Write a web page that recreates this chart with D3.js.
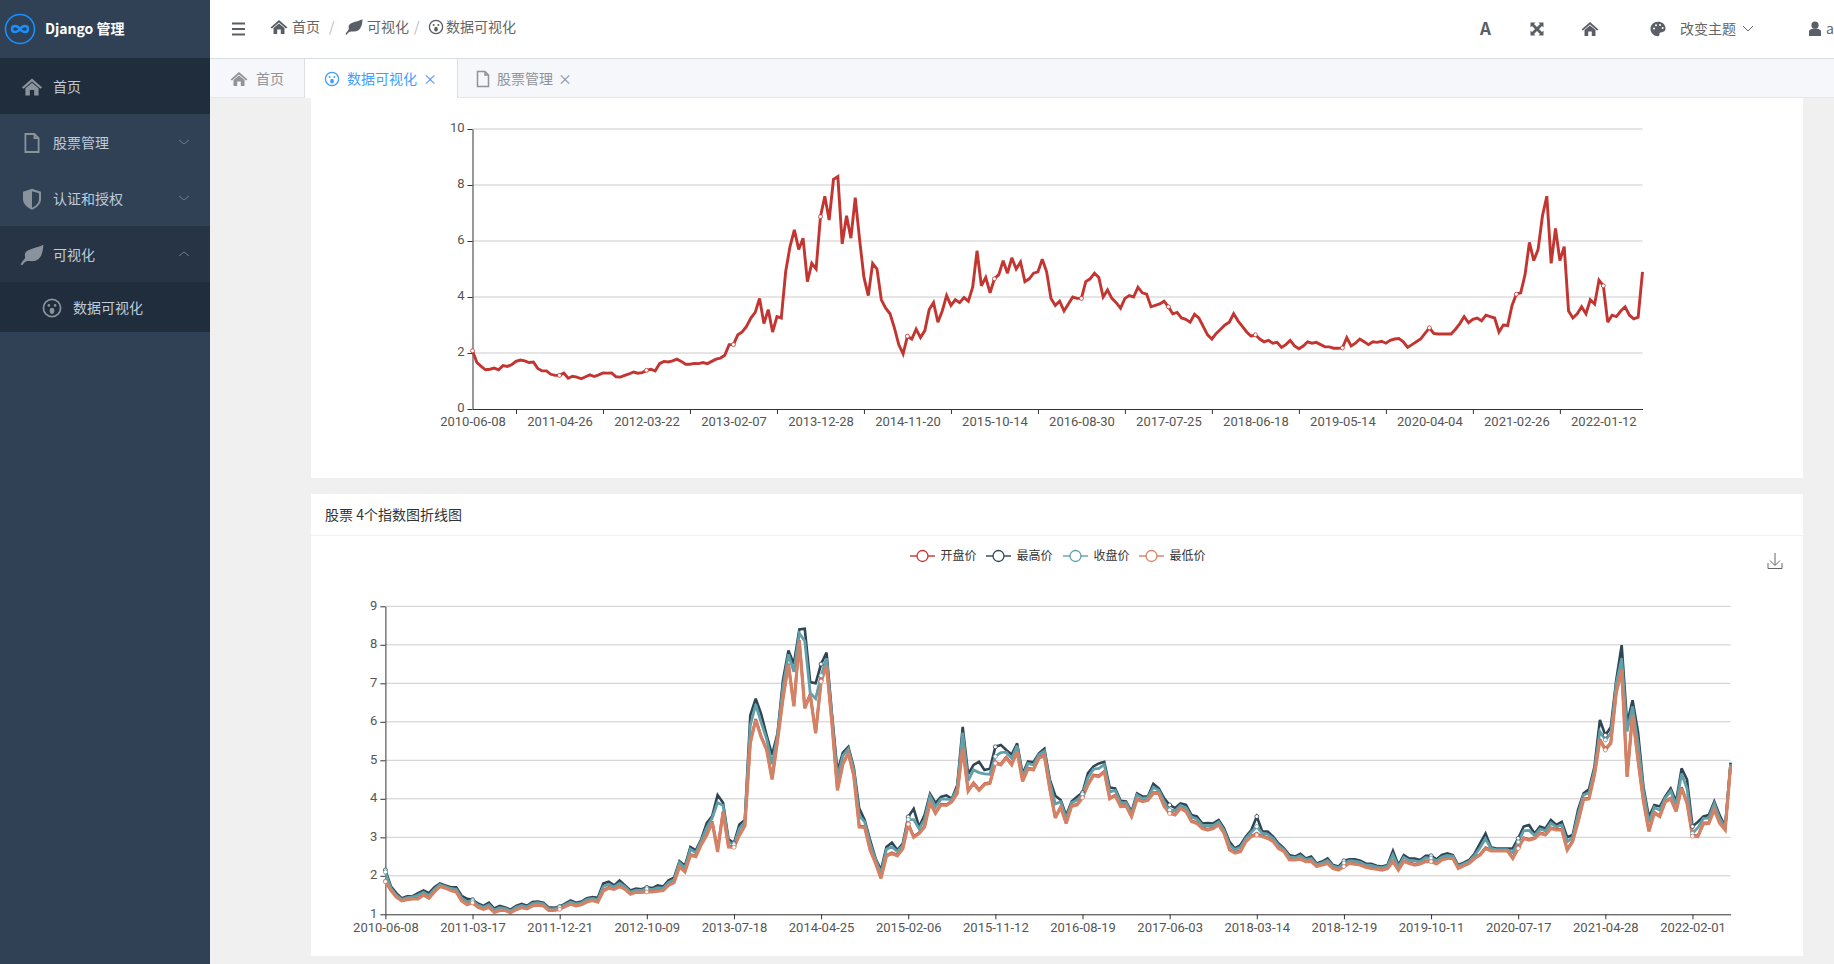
<!DOCTYPE html>
<html>
<head>
<meta charset="utf-8">
<title>数据可视化</title>
<script src="https://cdn.jsdelivr.net/npm/d3@7"></script>
<style>
html, body { margin: 0; padding: 0; background: #f0f0f0; overflow: hidden; }
svg { display: block; font-family: "Noto Sans CJK SC", "Noto Sans", sans-serif; }
</style>
</head>
<body>
<svg id="page" width="1834" height="964"></svg>
<script>
// top chart: single close series, one value per sample
var singleTickLabels = ["2010-06-08","2011-04-26","2012-03-22","2013-02-07","2013-12-28","2014-11-20","2015-10-14","2016-08-30","2017-07-25","2018-06-18","2019-05-14","2020-04-04","2021-02-26","2022-01-12"];
var singleValues = [
  2.08,1.66,1.52,1.40,1.42,1.46,1.40,1.55,1.52,1.58,1.70,1.75,1.72,1.66,1.68,1.45,1.36,1.36,1.24,1.20,
  1.20,1.28,1.10,1.17,1.14,1.08,1.15,1.22,1.16,1.22,1.29,1.28,1.29,1.15,1.14,1.20,1.25,1.32,1.28,1.30,
  1.38,1.42,1.36,1.62,1.70,1.68,1.72,1.78,1.70,1.60,1.60,1.63,1.62,1.66,1.62,1.70,1.78,1.82,1.92,2.30,
  2.30,2.65,2.75,2.95,3.25,3.45,3.95,3.05,3.55,2.75,3.30,3.25,4.90,5.80,6.40,5.70,6.10,4.55,5.20,5.00,
  6.87,7.60,6.75,8.20,8.30,5.90,6.90,6.10,7.55,6.05,4.70,4.05,5.20,5.00,3.90,3.60,3.40,2.90,2.30,1.97,
  2.60,2.50,2.85,2.55,2.80,3.55,3.80,3.10,3.50,4.05,3.70,3.90,3.80,3.98,3.85,4.35,5.65,4.40,4.70,4.15,
  4.65,4.80,5.30,4.85,5.40,5.00,5.25,4.55,4.65,4.85,4.90,5.35,4.90,3.95,3.70,3.85,3.50,3.75,4.00,3.95,
  3.95,4.55,4.65,4.85,4.70,4.00,4.25,3.95,3.80,3.60,3.95,4.05,4.00,4.35,4.15,4.10,3.65,3.70,3.75,3.85,
  3.65,3.40,3.45,3.25,3.20,3.10,3.38,3.25,2.95,2.65,2.50,2.70,2.85,3.00,3.10,3.40,3.15,2.95,2.75,2.60,
  2.65,2.50,2.40,2.45,2.35,2.38,2.20,2.30,2.45,2.25,2.15,2.25,2.40,2.35,2.38,2.30,2.22,2.22,2.17,2.17,
  2.18,2.55,2.25,2.35,2.50,2.40,2.30,2.40,2.38,2.42,2.35,2.45,2.50,2.52,2.40,2.20,2.30,2.40,2.50,2.70,
  2.90,2.70,2.68,2.68,2.68,2.68,2.85,3.05,3.30,3.08,3.20,3.25,3.15,3.35,3.30,3.25,2.75,3.00,2.98,3.70,
  4.10,4.15,4.80,5.95,5.30,5.70,6.90,7.60,5.20,6.45,5.30,5.80,3.50,3.25,3.40,3.65,3.40,3.90,3.75,4.60,
  4.40,3.10,3.35,3.30,3.50,3.65,3.35,3.22,3.28,4.90
];

// bottom chart: four series
var multiTickLabels = ["2010-06-08","2011-03-17","2011-12-21","2012-10-09","2013-07-18","2014-04-25","2015-02-06","2015-11-12","2016-08-19","2017-06-03","2018-03-14","2018-12-19","2019-10-11","2020-07-17","2021-04-28","2022-02-01"];
var seriesNames = ["开盘价","最高价","收盘价","最低价"];
var seriesColors = ["#c23531","#2f4554","#61a0a8","#d48265"];
var highValues = [
  2.15,1.73,1.55,1.42,1.47,1.47,1.55,1.62,1.55,1.70,1.80,1.75,1.70,1.70,1.48,1.40,
  1.38,1.28,1.22,1.30,1.15,1.22,1.18,1.12,1.22,1.27,1.22,1.32,1.33,1.30,1.18,1.17,
  1.20,1.28,1.36,1.30,1.33,1.42,1.45,1.43,1.80,1.85,1.75,1.88,1.75,1.62,1.67,1.65,
  1.70,1.68,1.75,1.72,1.88,1.95,2.38,2.26,2.75,2.66,2.95,3.37,3.55,4.10,3.90,2.95,
  2.85,3.33,3.45,6.17,6.60,6.20,5.65,5.14,5.70,7.08,7.85,7.50,8.40,8.42,7.03,7.00,
  7.50,7.80,6.20,4.72,5.20,5.35,4.82,3.75,3.45,2.93,2.45,2.15,2.75,2.86,2.67,2.84,
  3.53,3.74,3.27,3.58,4.13,3.89,4.05,4.09,4.00,4.35,5.87,4.64,4.88,4.96,4.75,4.78,
  5.35,5.40,5.27,5.15,5.44,4.65,4.97,4.95,5.18,5.30,4.50,4.08,3.97,3.57,3.93,4.05,
  4.16,4.67,4.84,4.92,4.96,4.29,4.27,3.95,3.93,3.67,4.14,4.06,4.06,4.39,4.27,4.01,
  3.84,3.76,3.88,3.84,3.58,3.54,3.36,3.37,3.36,3.45,3.23,2.88,2.71,2.80,3.02,3.19,
  3.54,3.15,3.15,3.02,2.84,2.71,2.54,2.50,2.57,2.45,2.50,2.32,2.37,2.45,2.28,2.24,
  2.39,2.43,2.43,2.39,2.32,2.31,2.26,2.24,2.28,2.65,2.28,2.54,2.45,2.45,2.41,2.52,
  2.52,2.43,2.54,2.58,2.54,2.28,2.34,2.41,2.58,2.84,3.10,2.74,2.71,2.71,2.71,2.71,
  2.97,3.28,3.32,3.10,3.28,3.23,3.45,3.32,3.40,3.00,3.06,3.72,4.14,4.25,4.83,6.05,
  5.65,5.86,7.08,7.99,5.96,6.56,5.74,4.31,3.53,3.84,3.80,4.06,4.27,3.93,4.79,4.50,
  3.28,3.40,3.54,3.58,3.93,3.57,3.28,4.94
];
var lowValues = [
  1.85,1.62,1.45,1.35,1.38,1.40,1.40,1.50,1.42,1.58,1.72,1.68,1.62,1.58,1.35,1.25,
  1.30,1.18,1.13,1.18,1.05,1.10,1.10,1.04,1.12,1.17,1.14,1.22,1.24,1.22,1.10,1.10,
  1.13,1.20,1.26,1.22,1.25,1.32,1.36,1.32,1.60,1.68,1.65,1.72,1.65,1.52,1.57,1.57,
  1.58,1.58,1.60,1.62,1.75,1.82,2.23,2.10,2.53,2.50,2.81,3.05,3.39,2.62,3.65,2.75,
  2.74,3.05,3.29,5.45,6.05,5.60,5.27,4.50,5.51,6.60,7.49,6.40,8.10,6.35,6.70,5.70,
  7.05,7.45,5.95,4.22,4.90,5.18,4.60,3.27,3.26,2.67,2.33,1.93,2.51,2.58,2.52,2.70,
  3.34,3.00,3.10,3.27,3.89,3.62,3.84,3.83,3.92,4.14,5.31,4.20,4.40,4.22,4.37,4.40,
  4.92,4.88,5.06,4.88,5.23,4.45,4.78,4.75,5.06,5.12,4.25,3.50,3.78,3.36,3.81,3.84,
  4.03,4.36,4.60,4.58,4.70,4.00,4.08,3.80,3.81,3.54,3.98,3.93,3.96,4.14,4.14,3.80,
  3.62,3.58,3.75,3.67,3.41,3.36,3.23,3.19,3.23,3.32,3.10,2.67,2.59,2.63,2.89,3.02,
  3.06,3.02,2.97,2.89,2.71,2.63,2.41,2.41,2.43,2.37,2.37,2.24,2.28,2.32,2.19,2.15,
  2.24,2.32,2.30,2.28,2.22,2.19,2.17,2.15,2.19,2.37,2.15,2.37,2.32,2.28,2.31,2.37,
  2.37,2.31,2.41,2.45,2.45,2.19,2.26,2.32,2.45,2.54,2.71,2.65,2.65,2.65,2.65,2.45,
  2.71,2.97,2.93,2.97,3.10,3.06,3.23,3.19,3.19,2.67,2.89,3.40,3.98,4.00,4.62,5.53,
  5.27,5.44,6.75,7.34,4.57,6.17,5.00,3.93,3.15,3.63,3.54,3.92,4.00,3.67,4.28,3.88,
  3.03,3.02,3.35,3.36,3.72,3.36,3.19,4.85
];
var closeValues = [
  2.10,1.68,1.50,1.39,1.43,1.45,1.50,1.57,1.49,1.65,1.77,1.72,1.67,1.65,1.42,1.33,
  1.35,1.24,1.18,1.25,1.11,1.17,1.15,1.09,1.18,1.23,1.19,1.28,1.30,1.27,1.15,1.14,
  1.18,1.25,1.32,1.27,1.30,1.38,1.41,1.38,1.72,1.78,1.71,1.81,1.71,1.58,1.63,1.62,
  1.66,1.64,1.69,1.68,1.83,1.90,2.34,2.20,2.69,2.60,2.91,3.25,3.50,3.90,3.83,2.88,
  2.81,3.23,3.40,5.90,6.45,5.98,5.55,4.90,5.65,6.90,7.75,7.30,8.30,8.10,6.75,6.60,
  7.20,7.65,6.12,4.55,5.12,5.30,4.76,3.57,3.40,2.84,2.42,2.06,2.69,2.75,2.63,2.79,
  3.46,3.46,3.22,3.46,4.07,3.79,3.99,3.99,3.98,4.27,5.72,4.47,4.75,4.68,4.65,4.64,
  5.10,5.20,5.21,5.05,5.38,4.58,4.92,4.88,5.15,5.24,4.43,3.87,3.92,3.49,3.90,3.97,
  4.12,4.55,4.77,4.79,4.89,4.18,4.22,3.90,3.90,3.62,4.10,4.01,4.03,4.30,4.22,3.93,
  3.71,3.69,3.83,3.77,3.53,3.47,3.31,3.30,3.31,3.40,3.18,2.80,2.68,2.74,2.97,3.13,
  3.28,3.10,3.08,2.97,2.79,2.68,2.49,2.47,2.52,2.42,2.45,2.29,2.34,2.40,2.25,2.21,
  2.33,2.39,2.38,2.35,2.28,2.27,2.23,2.21,2.25,2.55,2.23,2.48,2.40,2.39,2.37,2.47,
  2.46,2.39,2.49,2.53,2.51,2.25,2.31,2.38,2.53,2.73,2.96,2.71,2.68,2.68,2.68,2.60,
  2.88,3.17,3.18,3.05,3.22,3.17,3.37,3.27,3.32,2.88,3.00,3.60,4.10,4.15,4.75,5.75,
  5.53,5.70,6.99,7.65,5.75,6.40,5.46,4.21,3.39,3.78,3.70,4.02,4.20,3.83,4.65,4.27,
  3.10,3.25,3.49,3.50,3.87,3.49,3.25,4.90
];
var openValues = [
  1.86,1.64,1.47,1.37,1.40,1.42,1.42,1.52,1.44,1.60,1.74,1.70,1.64,1.60,1.37,1.27,
  1.32,1.20,1.15,1.20,1.07,1.12,1.12,1.06,1.14,1.19,1.16,1.24,1.26,1.24,1.12,1.12,
  1.15,1.22,1.28,1.24,1.27,1.34,1.38,1.34,1.62,1.70,1.67,1.74,1.67,1.54,1.59,1.59,
  1.60,1.60,1.62,1.64,1.77,1.84,2.25,2.12,2.55,2.52,2.83,3.07,3.41,2.70,3.67,2.77,
  2.76,3.07,3.31,5.47,6.07,5.62,5.29,4.52,5.53,6.62,7.51,6.42,8.12,6.37,6.72,5.72,
  7.07,7.47,5.97,4.24,4.92,5.20,4.62,3.29,3.28,2.69,2.35,1.95,2.53,2.60,2.54,2.72,
  3.36,3.02,3.12,3.29,3.91,3.64,3.86,3.85,3.94,4.16,5.33,4.22,4.42,4.24,4.39,4.42,
  4.94,4.90,5.08,4.90,5.25,4.47,4.80,4.77,5.08,5.14,4.27,3.52,3.80,3.38,3.83,3.86,
  4.05,4.38,4.62,4.60,4.72,4.02,4.10,3.82,3.83,3.56,4.00,3.95,3.98,4.16,4.16,3.82,
  3.64,3.60,3.77,3.69,3.43,3.38,3.25,3.21,3.25,3.34,3.12,2.69,2.61,2.65,2.91,3.04,
  3.08,3.04,2.99,2.91,2.73,2.65,2.43,2.43,2.45,2.39,2.39,2.26,2.30,2.34,2.21,2.17,
  2.26,2.34,2.32,2.30,2.24,2.21,2.19,2.17,2.21,2.39,2.17,2.39,2.34,2.30,2.33,2.39,
  2.39,2.33,2.43,2.47,2.47,2.21,2.28,2.34,2.47,2.56,2.73,2.67,2.67,2.67,2.67,2.47,
  2.73,2.99,2.95,2.99,3.12,3.08,3.25,3.21,3.21,2.69,2.91,3.42,4.00,4.02,4.64,5.55,
  5.29,5.46,6.77,7.36,4.59,6.19,5.02,3.95,3.17,3.65,3.56,3.94,4.02,3.69,4.30,3.90,
  3.05,3.04,3.37,3.38,3.74,3.38,3.21,4.88
];
var multiSeries = [openValues, highValues, closeValues, lowValues];
var multiWidths = [2.6, 2.6, 2.8, 3.2];

// page chrome labels
var sideItems = ["首页","股票管理","认证和授权","可视化"];

var svg = d3.select("#page");

function rect(x, y, w, h, fill) {
  return svg.append("rect").attr("x", x).attr("y", y).attr("width", w).attr("height", h).attr("fill", fill);
}
function label(x, y, str, size, color, weight) {
  return svg.append("text").attr("x", x).attr("y", y).attr("dy", "0.36em")
    .attr("font-size", size).attr("fill", color).attr("font-weight", weight || 400).text(str);
}

// small icons, all centred on 0,0
var icons = {
  home: function(g, c) {
    g.append("path").attr("fill", c).attr("d", "M0 -7 L8.5 0.5 L7 1.5 L0 -4.5 L-7 1.5 L-8.5 0.5 Z M-5.5 1 L0 -3.5 L5.5 1 V7 H1.8 V2.5 H-1.8 V7 H-5.5 Z");
  },
  doc: function(g, c) {
    g.append("path").attr("fill", "none").attr("stroke", c).attr("stroke-width", 1.5).attr("d", "M-5.5 -7.5 H2 L5.5 -4 V7.5 H-5.5 Z M2 -7.5 V-4 H5.5");
  },
  shield: function(g, c) {
    g.append("path").attr("fill", c).attr("d", "M0 -8.5 L7.5 -6 V0 C7.5 4.5 3.5 7.5 0 9 C-3.5 7.5 -7.5 4.5 -7.5 0 V-6 Z");
    g.append("path").attr("fill", "#304156").attr("d", "M0 -6.5 L5.8 -4.8 V0 C5.8 3.5 3 6 0 7.2 Z");
  },
  leaf: function(g, c) {
    g.append("path").attr("fill", c).attr("d", "M-9.5 8 C-7 3 -5 4 -6 0 C-6 -5 2 -5 9.5 -8.5 C9 1 6 6 -2 5 C-4 5 -6 5 -8 8.5 Z");
  },
  face: function(g, c) {
    g.append("circle").attr("r", 6.6).attr("fill", "none").attr("stroke", c).attr("stroke-width", 1.3);
    g.append("circle").attr("cx", -2.4).attr("cy", -2).attr("r", 1).attr("fill", c);
    g.append("circle").attr("cx", 2.4).attr("cy", -2).attr("r", 1).attr("fill", c);
    g.append("ellipse").attr("cy", 2.2).attr("rx", 1.8).attr("ry", 2.4).attr("fill", c);
  },
  palette: function(g, c) {
    g.append("path").attr("fill", c).attr("d", "M0 -7.2 C-4.5 -7.2 -7.5 -3.8 -7.5 0 C-7.5 4 -4 7.2 0 7.2 C2 7.2 1.2 5 1.6 4 C2.2 2.8 7.5 4 7.5 -0.5 C7.5 -4.5 4 -7.2 0 -7.2 Z");
    [[-4,-0.5],[-2,-3.8],[2,-4],[4.6,-1]].forEach(function(p) {
      g.append("circle").attr("cx", p[0]).attr("cy", p[1]).attr("r", 1).attr("fill", "#fff");
    });
  },
  expand: function(g, c) {
    g.append("path").attr("fill", c).attr("d", "M-6.5 -6.5 H-1.5 L-3 -5 L0 -2 L3 -5 L1.5 -6.5 H6.5 V-1.5 L5 -3 L2 0 L5 3 L6.5 1.5 V6.5 H1.5 L3 5 L0 2 L-3 5 L-1.5 6.5 H-6.5 V1.5 L-5 3 L-2 0 L-5 -3 L-6.5 -1.5 Z");
  },
  user: function(g, c) {
    g.append("circle").attr("cy", -3.8).attr("r", 3.6).attr("fill", c);
    g.append("path").attr("fill", c).attr("d", "M-6 7 V2.5 C-6 0.5 -3 -0.5 0 -0.5 C3 -0.5 6 0.5 6 2.5 V7 Z");
  },
  download: function(g, c) {
    g.append("path").attr("fill", "none").attr("stroke", c).attr("stroke-width", 1).attr("d", "M-7 2 V7.5 H7 V2 M0 -8 V4 M-5 -0.5 L0 4.5 L5 -0.5");
  }
};
function icon(name, x, y, color, scale) {
  var g = svg.append("g").attr("transform", "translate(" + x + "," + y + ") scale(" + (scale || 1) + ")");
  icons[name](g, color);
}

// sidebar
rect(0, 0, 210, 964, "#304156");
rect(0, 58, 210, 56, "#1f2d3d");
rect(0, 226, 210, 56, "#263445");
rect(0, 282, 210, 50, "#1f2d3d");
// logo
svg.append("circle").attr("cx", 20).attr("cy", 29).attr("r", 14.5).attr("fill", "none").attr("stroke", "#1890ff").attr("stroke-width", 1.6);
svg.append("path").attr("fill", "none").attr("stroke", "#1890ff").attr("stroke-width", 2.4)
  .attr("d", "M20 29 C17 25 12 25 12 29 C12 33 17 33 20 29 C23 25 28 25 28 29 C28 33 23 33 20 29 Z");
label(45, 29, "Django 管理", 14, "#ffffff", 700);
var sideIcons = ["home","doc","shield","leaf"];
sideItems.forEach(function(t, i) {
  var cy = 87 + i * 56;
  icon(sideIcons[i], 32, cy, "#8a929c", 1.2);
  label(53, cy, t, 14, "#bfcbd9");
});
[143, 199].forEach(function(y) {
  svg.append("path").attr("fill", "none").attr("stroke", "#6f7b8a").attr("d", "M179 " + (y - 3) + " L184 " + (y + 1) + " L189 " + (y - 3));
});
svg.append("path").attr("fill", "none").attr("stroke", "#6f7b8a").attr("d", "M179 256 L184 252 L189 256");
icon("face", 52, 308, "#8a929c", 1.3);
label(73, 308, "数据可视化", 14, "#bfcbd9");

// header
rect(210, 0, 1624, 58, "#ffffff");
rect(210, 58, 1624, 1, "#d8dce5");
rect(232, 22.5, 13, 2, "#5a5e66");
rect(232, 28, 13, 2, "#5a5e66");
rect(232, 33.5, 13, 2, "#5a5e66");
icon("home", 279, 27, "#5a5e66");
label(292, 27, "首页", 14, "#666");
label(329, 27, "/", 14, "#bbb");
icon("leaf", 354, 27, "#5a5e66", 0.9);
label(367, 27, "可视化", 14, "#666");
label(414, 27, "/", 14, "#bbb");
icon("face", 436, 27, "#5a5e66");
label(446, 27, "数据可视化", 14, "#666");
label(1480, 29, "A", 17, "#5a5e66", 700);
icon("expand", 1537, 29, "#5a5e66");
icon("home", 1590, 29, "#5a5e66");
icon("palette", 1658, 29, "#5a5e66");
label(1680, 29, "改变主题", 14, "#666");
svg.append("path").attr("fill", "none").attr("stroke", "#666").attr("d", "M1743 26 L1748 31 L1753 26");
icon("user", 1815, 29, "#5a5e66");
label(1826, 29, "a", 14, "#666");

// tab bar
rect(210, 59, 1624, 38, "#f5f7fa");
rect(210, 97, 1624, 1, "#e4e7ed");
rect(304, 59, 153, 39, "#ffffff");
rect(304, 59, 1, 39, "#dcdfe6");
rect(457, 59, 1, 39, "#dcdfe6");
icon("home", 239, 79, "#909399");
label(256, 79, "首页", 14, "#909399");
icon("face", 332, 79, "#409eff");
label(347, 79, "数据可视化", 14, "#409eff");
label(430, 79, "×", 14, "#409eff").attr("text-anchor", "middle");
icon("doc", 483, 79, "#909399");
label(497, 79, "股票管理", 14, "#909399");
label(565, 79, "×", 14, "#909399").attr("text-anchor", "middle");

// cards
rect(210, 98, 1624, 866, "#f0f0f0");
rect(311, 98, 1492, 380, "#ffffff");
rect(311, 494, 1492, 462, "#ffffff");
rect(311, 535, 1492, 1, "#f2f2f2");
label(325, 515, "股票 4个指数图折线图", 14, "#333");

function styleAxis(g) {
  g.selectAll("path,line").attr("stroke", "#333");
  g.selectAll("text").attr("fill", "#555").attr("font-size", 13).attr("font-family", "Roboto, sans-serif");
}

function makeChart(left, right, top, bottom, yMin, yMax, count) {
  var x = d3.scalePoint().domain(d3.range(count)).range([left, right]);
  var yTicks = d3.range(yMin, yMax + 1, yMax === 10 ? 2 : 1);
  var y = d3.scaleLinear().domain([yMin, yMax]).range([bottom, top]);
  svg.append("g").selectAll("line").data(yTicks.slice(1)).enter().append("line")
    .attr("x1", left).attr("x2", right)
    .attr("y1", function(d) { return y(d); }).attr("y2", function(d) { return y(d); })
    .attr("stroke", "#ccc").attr("stroke-width", 1);
  var yAxis = svg.append("g").attr("transform", "translate(" + left + ",0)")
    .call(d3.axisLeft(y).tickValues(yTicks).tickSize(5).tickPadding(3).tickSizeOuter(0));
  styleAxis(yAxis);
  yAxis.selectAll("text").attr("y", -1.3);
  return { x: x, y: y };
}

function drawMarkers(c, values, color, every) {
  var idx = d3.range(0, values.length, every);
  svg.append("g").selectAll("circle").data(idx).enter().append("circle")
    .attr("cx", function(i) { return c.x(i); })
    .attr("cy", function(i) { return c.y(values[i]); })
    .attr("r", 2).attr("fill", "#fff").attr("stroke", color).attr("stroke-width", 1).attr("stroke-opacity", 0.8);
}

function drawLine(c, values, color, width) {
  var line = d3.line().x(function(d, i) { return c.x(i); }).y(function(d) { return c.y(d); });
  svg.append("path").datum(values).attr("d", line)
    .attr("fill", "none").attr("stroke", color).attr("stroke-width", width).attr("stroke-linejoin", "miter").attr("stroke-miterlimit", 3);
}

// top chart
var stepTop = 20;
var top1 = makeChart(472.5, 1642.5, 129, 409, 0, 10, singleValues.length);
drawLine(top1, singleValues, "#c23531", 2.9);
drawMarkers(top1, singleValues, "#c23531", stepTop);
// ticks sit between the labels on this one
var axisTopTicks = svg.append("g").attr("transform", "translate(0,409)")
  .call(d3.axisBottom(top1.x).tickValues(d3.range(stepTop / 2, singleValues.length, stepTop)).tickFormat("").tickSize(5).tickSizeOuter(0));
styleAxis(axisTopTicks);
var axisTopLabels = svg.append("g").attr("transform", "translate(0,409)")
  .call(d3.axisBottom(top1.x).tickValues(d3.range(0, singleValues.length, stepTop))
    .tickFormat(function(i) { return singleTickLabels[i / stepTop]; }).tickSize(0).tickPadding(8).tickSizeOuter(0));
styleAxis(axisTopLabels);

// bottom chart
var stepBottom = 16;
var bottom1 = makeChart(385.4, 1730.6, 606.3, 914.3, 1, 9, highValues.length);
multiSeries.forEach(function(values, k) {
  drawLine(bottom1, values, seriesColors[k], multiWidths[k]);
});
multiSeries.forEach(function(values, k) {
  drawMarkers(bottom1, values, seriesColors[k], stepBottom);
});
var axisBottomEl = svg.append("g").attr("transform", "translate(0,914.3)")
  .call(d3.axisBottom(bottom1.x).tickValues(d3.range(0, highValues.length, stepBottom))
    .tickFormat(function(i) { return multiTickLabels[i / stepBottom]; }).tickSize(5).tickPadding(3).tickSizeOuter(0));
styleAxis(axisBottomEl);

// legend
var legendX = [910, 986, 1063, 1139];
seriesNames.forEach(function(name, k) {
  var lx = legendX[k];
  svg.append("line").attr("x1", lx).attr("x2", lx + 25).attr("y1", 556).attr("y2", 556)
    .attr("stroke", seriesColors[k]).attr("stroke-width", 2).attr("stroke-opacity", 0.7);
  svg.append("circle").attr("cx", lx + 12.5).attr("cy", 556).attr("r", 5.5)
    .attr("fill", "#fff").attr("stroke", seriesColors[k]).attr("stroke-width", 1.3);
  label(lx + 30.5, 556, name, 12, "#333");
});
icon("download", 1775, 561, "#666");
</script>
</body>
</html>
